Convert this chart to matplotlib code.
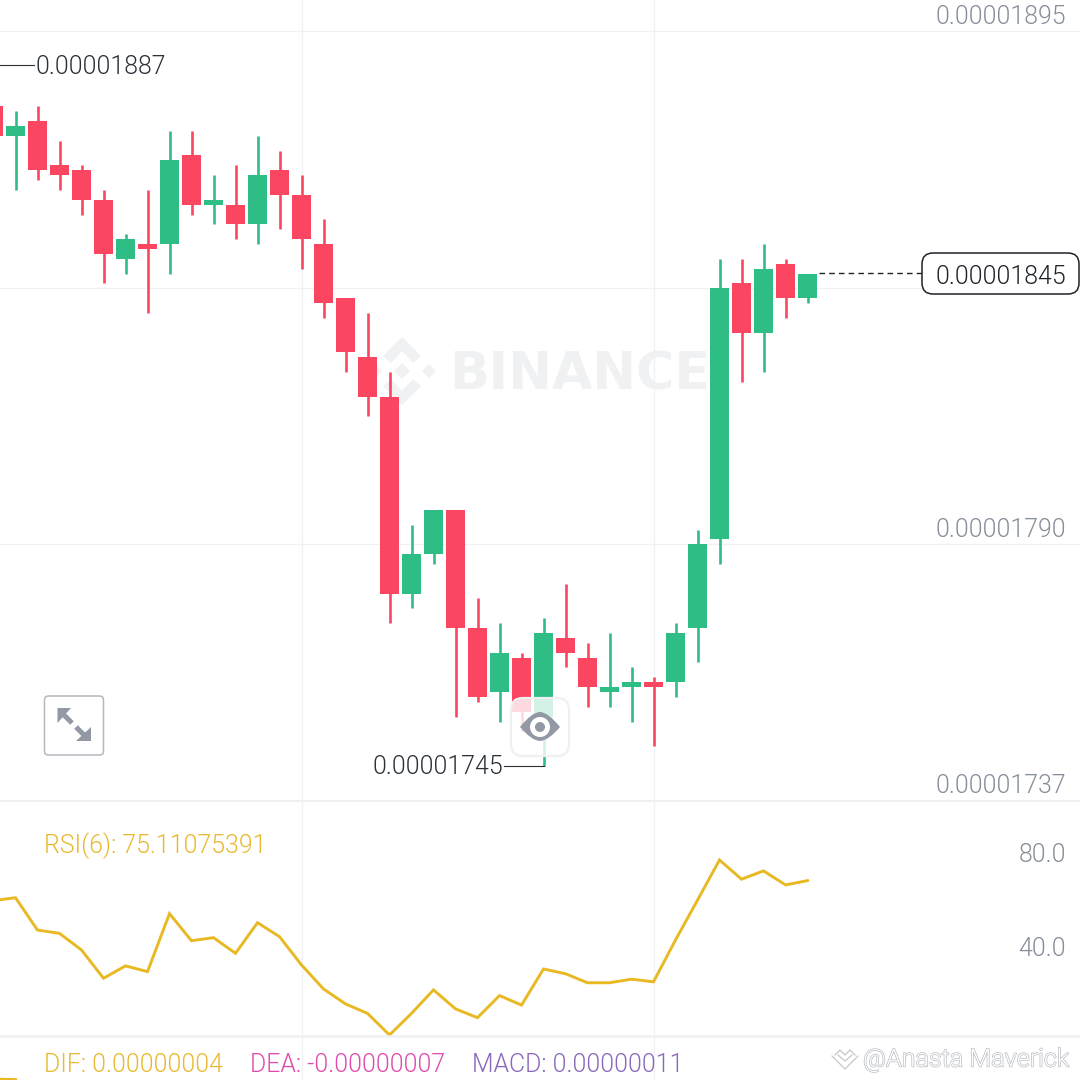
import matplotlib
matplotlib.use('Agg')
from matplotlib import pyplot as plt
from matplotlib.patches import FancyBboxPatch, Polygon, Circle, PathPatch
from matplotlib.path import Path
import matplotlib.patheffects as pe

plt.rcParams['font.family'] = ['Roboto', 'DejaVu Sans']
plt.rcParams['font.weight'] = 300

# prices in units of 1e-8
opens = [1879, 1873, 1876, 1867, 1866, 1860, 1848, 1851, 1851, 1869, 1859, 1859, 1855, 1866, 1861, 1851, 1840, 1828, 1820,
         1780, 1788, 1797, 1773, 1760, 1767, 1755, 1771, 1767, 1760, 1761, 1762, 1762, 1773, 1791, 1843, 1833, 1847, 1840]
closes = [1873, 1875, 1866, 1865, 1860, 1849, 1852, 1850, 1868, 1859, 1860, 1855, 1865, 1861, 1852, 1839, 1829, 1820, 1780,
          1788, 1797, 1773, 1759, 1768, 1756, 1772, 1768, 1761, 1761, 1762, 1761, 1772, 1790, 1842, 1833, 1846, 1840, 1845]
highs = [1879, 1878, 1879, 1872, 1867, 1862, 1853, 1862, 1874, 1874, 1865, 1867, 1873, 1870, 1865, 1856, 1840, 1837, 1825,
         1794, 1797, 1797, 1779, 1774, 1768, 1775, 1782, 1770, 1772, 1765, 1763, 1774, 1793, 1848, 1848, 1851, 1848, 1845]
lows = [1873, 1862, 1864, 1862, 1857, 1843, 1845, 1837, 1845, 1857, 1855, 1852, 1851, 1854, 1846, 1836, 1825, 1816, 1774,
        1777, 1786, 1755, 1758, 1754, 1752, 1745, 1765, 1757, 1757, 1754, 1749, 1759, 1766, 1786, 1823, 1825, 1836, 1839]
rsi = [66.7, 67.9, 54.3, 52.9, 45.9, 34.0, 39.2, 36.8, 61.2, 49.8, 51.1, 44.5, 57.4, 51.5, 39.6, 29.5, 23.2, 19.2, 10.1,
       19.2, 29.1, 21.1, 17.4, 26.7, 22.7, 37.9, 35.9, 32.1, 32.1, 33.6, 32.5, 50.1, 66.9, 83.8, 75.7, 79.2, 73.3, 75.1]
dif = [-6.0, -6.6]

price_grid = [1894.2, 1842.0, 1790.0, 1737.85]
price_labels = ['0.00001895', '', '0.00001790', '0.00001737']
rsi_ticks = [80.0, 40.0]
time_grid = [14, 30]

RED = '#FB4661'
GREEN = '#2EBD85'
GRID = '#F0F1F3'
GREY = '#868E9A'
DARK = '#2B3139'
YELLOW = '#E8B923'
WM = '#F0F1F2'
FS = 17.9

x = list(range(len(opens)))
xlim = (6.5 / 22, 1086.5 / 22)

fig = plt.figure(figsize=(10.8, 10.8), dpi=100, facecolor='white')


def panel(top, bottom, z):
    a = fig.add_axes([0, 1 - bottom / 1080, 1, (bottom - top) / 1080], zorder=z)
    a.patch.set_alpha(0)
    a.set_axis_off()
    a.set_xlim(xlim)
    return a


def pixel_layer(z):
    a = fig.add_axes([0, 0, 1, 1], zorder=z)
    a.patch.set_alpha(0)
    a.set_axis_off()
    a.set_xlim(0, 1080)
    a.set_ylim(1080, 0)
    return a


# watermark goes under the candles
back = pixel_layer(0)
back.text(449, 390, 'BINANCE', fontsize=37.6, fontweight='bold', family='DejaVu Sans', color=WM, ha='left', va='baseline')
lx, ly = 402, 371
for dx, r in [(0, 8), (-27, 7), (27, 7)]:
    back.add_patch(Polygon([(lx + dx - r, ly), (lx + dx, ly - r), (lx + dx + r, ly), (lx + dx, ly + r)], color=WM, lw=0))
for s in [1, -1]:
    chevron = [(-19, -15), (0, -34), (19, -15), (11, -8), (0, -20), (-11, -8)]
    back.add_patch(Polygon([(lx + a, ly + s * b) for a, b in chevron], color=WM, lw=0))

# candles
ax = panel(0, 801, 1)
ax.set_ylim(1737.85, 1790 + 544.3 / 4.922)
for g in price_grid:
    ax.axhline(g, color=GRID, lw=0.9, zorder=1)
for t in time_grid:
    ax.axvline(t, color=GRID, lw=0.9, zorder=1)
colors = [GREEN if c > o else RED for o, c in zip(opens, closes)]
ax.vlines(x, lows, highs, colors=colors, lw=1.9, zorder=2, capstyle='butt')
ax.bar(x, [abs(c - o) for o, c in zip(opens, closes)], bottom=[min(o, c) for o, c in zip(opens, closes)],
       width=0.864, color=colors, zorder=3)
for g, lab in zip(price_grid, price_labels):
    if lab:
        ax.annotate(lab, xy=(1, g), xycoords=('axes fraction', 'data'), xytext=(-10, 5.6),
                    textcoords='offset points', ha='right', va='baseline', color=GREY, fontsize=FS)

# high, low and last price marks
ax.plot([xlim[0], 1.84], [1887.3, 1887.3], color=DARK, lw=0.8, zorder=4)
ax.annotate('0.00001887', xy=(1.84, 1887.3), xytext=(1, 0.8), textcoords='offset points', ha='left', va='center_baseline',
            color=DARK, fontsize=FS)
ax.plot([25, 23.2], [1745, 1745], color=DARK, lw=0.8, zorder=4)
ax.annotate('0.00001745', xy=(23.15, 1745), xytext=(0, 1.2), textcoords='offset points', ha='right', va='center_baseline',
            color=DARK, fontsize=FS)
ax.plot([37.5, 42.2], [1845.1, 1845.1], color='#1E2329', lw=1.0, dashes=(4, 3), zorder=4)

# RSI
ax2 = panel(801, 1036, 1)
ax2.set_ylim(80 - (1036 - 869) / 2.375, 80 + 68 / 2.375)
for t in time_grid:
    ax2.axvline(t, color=GRID, lw=0.9, zorder=1)
ax2.plot(x, rsi, color=YELLOW, lw=2.1, solid_joinstyle='miter', zorder=3, clip_on=False)
for v in rsi_ticks:
    ax2.annotate('%.1f' % v, xy=(1, v), xycoords=('axes fraction', 'data'), xytext=(-10, 5.4),
                 textcoords='offset points', ha='right', va='baseline', color=GREY, fontsize=FS)

# MACD strip, only the start of DIF is visible
ax3 = panel(1036, 1080, 1)
ax3.set_ylim(-7, 40)
for t in time_grid:
    ax3.axvline(t, color=GRID, lw=0.9, zorder=1)
ax3.plot(x[:2], dif, color=YELLOW, lw=2.1, zorder=3)

# buttons, legends, tag on top
ui = pixel_layer(5)
ui.plot([0, 1080], [801, 801], color='#EEF0F2', lw=1.4)
ui.plot([0, 1080], [1036, 1036], color='#EEF0F2', lw=1.8)
ui.text(44, 842.5, 'RSI(6): 75.11075391', color='#E8B92F', fontsize=FS, va='center_baseline')
ui.text(44, 1063, 'DIF: 0.00000004', color='#E8B92F', fontsize=FS, va='center_baseline')
ui.text(250, 1063, 'DEA: -0.00000007', color='#DE4BAE', fontsize=FS, va='center_baseline')
ui.text(472, 1063, 'MACD: 0.00000011', color='#8A68BA', fontsize=FS, va='center_baseline')

ui.add_patch(FancyBboxPatch((922, 253), 157, 41, boxstyle='round,pad=0,rounding_size=11', lw=1.1, ec='#1E2329',
                            fc='white', zorder=4))
ui.text(1066, 274, '0.00001845', color='#1E2329', fontsize=FS, ha='right', va='center_baseline', zorder=5)

# expand button
ui.add_patch(FancyBboxPatch((44.5, 696), 59, 59, boxstyle='round,pad=0,rounding_size=4', lw=1.1, ec='#B4B8BE', fc='white'))
for pts in [[(57.5, 708), (71, 708), (57.5, 723)], [(91, 741), (91, 727), (76, 741)]]:
    ui.add_patch(Polygon(pts, color='#9299A5', lw=0))
ui.plot([63, 72], [714, 723], color='#9299A5', lw=3.6, solid_capstyle='butt')
ui.plot([76, 85], [727, 736], color='#9299A5', lw=3.6, solid_capstyle='butt')

# eye button
ui.add_patch(FancyBboxPatch((511, 698), 58, 58, boxstyle='round,pad=0,rounding_size=12', lw=1.6, ec='#EEF0F2',
                            fc=(1, 1, 1, 0.8)))
eye = Path([(520, 727), (532, 712), (540, 712), (548, 712), (560, 727), (548, 741), (540, 741), (532, 741), (520, 727)],
           [Path.MOVETO, Path.CURVE3, Path.CURVE3, Path.CURVE3, Path.CURVE3, Path.CURVE3, Path.CURVE3, Path.CURVE3, Path.CURVE3])
ui.add_patch(PathPatch(eye, fc='#9299A5', lw=0))
ui.add_patch(Circle((540, 727), 10, fc='white', lw=0))
ui.add_patch(Circle((540, 727), 5, fc='#9299A5', lw=0))

# author mark
for pts in [[(832, 1056), (845, 1069), (858, 1056)], [(838, 1055), (845, 1061), (852, 1055)],
            [(835, 1055), (840, 1050), (845, 1055), (850, 1050), (855, 1055)]]:
    ui.plot(*zip(*pts), color='#C4C8CD', lw=0.9)
t = ui.text(863, 1057, '@Anasta Maverick', color='white', fontsize=18.1, va='center_baseline', ha='left')
t.set_path_effects([pe.withStroke(linewidth=1.0, foreground='#B8BCC2')])

fig.savefig('out.png', dpi=100)
